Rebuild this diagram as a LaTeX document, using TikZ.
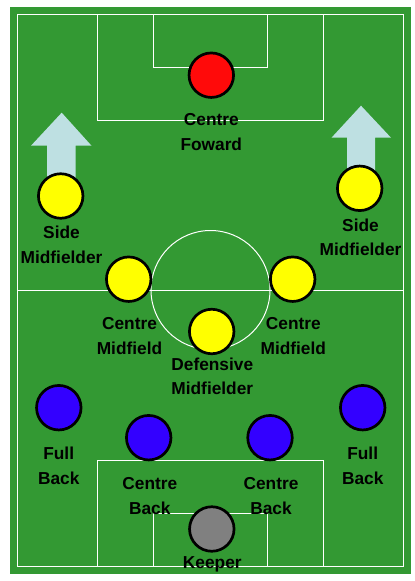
\documentclass[tikz,border=0pt]{standalone}
\usepackage{fontspec}
\setmainfont{Liberation Sans}
\definecolor{pitchgreen}{HTML}{339933}
\definecolor{arrowblue}{HTML}{BEE0E2}
\definecolor{fwdred}{HTML}{FF0A0A}
\definecolor{midyellow}{HTML}{FFFF00}
\definecolor{defblue}{HTML}{3300FF}
\definecolor{gkgrey}{HTML}{808080}
\begin{document}
\begin{tikzpicture}[x=1pt,y=-1pt,
  pitchline/.style={draw=white, line width=1pt},
  player/.style={circle, draw=black, line width=2.7pt, minimum size=44.5pt, inner sep=0pt},
  lbl/.style={font=\fontsize{17.3}{24.5}\selectfont\bfseries, align=center, anchor=base, inner sep=0pt, text=black},
  movearrow/.style={fill=arrowblue}]
\useasboundingbox (0,0) rectangle (415,581);
\fill[white] (0,0) rectangle (415,581);
\fill[pitchgreen] (10,7) rectangle (411,574);
% pitch markings
\draw[pitchline] (17.5,14.5) rectangle (403.5,566);
\draw[pitchline] (97,14.5) rectangle (323.5,120);
\draw[pitchline] (153,14.5) rectangle (267,67);
\draw[pitchline] (97,460) rectangle (323.5,566);
\draw[pitchline] (153,513) rectangle (267,566);
\draw[pitchline] (17.5,290) -- (403.5,290);
\draw[pitchline] (210.5,290) circle [radius=59.5];
% forward-movement arrows
\fill[movearrow] (61.7,112.7) -- (91.5,145.7) -- (75.5,145.7) -- (75.5,190) -- (47,190) -- (47,145.7) -- (31,145.7) -- cycle;
\fill[movearrow] (361,105.7) -- (391,137.7) -- (375,137.7) -- (375,185) -- (347,185) -- (347,137.7) -- (331.5,137.7) -- cycle;
% players
\node[player, fill=fwdred] (cf) at (211.3,75.2) {};
\node[player, fill=midyellow] (lsm) at (60.7,196) {};
\node[player, fill=midyellow] (rsm) at (359.7,188.3) {};
\node[player, fill=midyellow] (lcm) at (128.7,279.2) {};
\node[player, fill=midyellow] (rcm) at (292.7,279.2) {};
\node[player, fill=midyellow] (dm) at (211.7,331.5) {};
\node[player, fill=defblue] (lfb) at (58.8,407.7) {};
\node[player, fill=defblue] (rfb) at (362.7,407.7) {};
\node[player, fill=defblue] (lcb) at (148.7,437.7) {};
\node[player, fill=defblue] (rcb) at (270,437.7) {};
\node[player, fill=gkgrey] (gk) at (211.8,529) {};
% labels (anchor base = baseline of last line)
\node[lbl] (cfl) at (211.3,150.3) {Centre\\Foward};
\node[lbl] (lsml) at (61.5,263) {Side\\Midfielder};
\node[lbl] (rsml) at (360.5,255.5) {Side\\Midfielder};
\node[lbl] (lcml) at (129.5,354.3) {Centre\\Midfield};
\node[lbl] (rcml) at (293.3,354.3) {Centre\\Midfield};
\node[lbl] (dml) at (212.3,394.5) {Defensive\\Midfielder};
\node[lbl] (lfbl) at (58.7,484) {Full\\Back};
\node[lbl] (rfbl) at (362.7,484) {Full\\Back};
\node[lbl] (lcbl) at (149.8,514.3) {Centre\\Back};
\node[lbl] (rcbl) at (271,514.3) {Centre\\Back};
\node[lbl] (gkl) at (212.3,568) {Keeper};
\end{tikzpicture}
\end{document}
